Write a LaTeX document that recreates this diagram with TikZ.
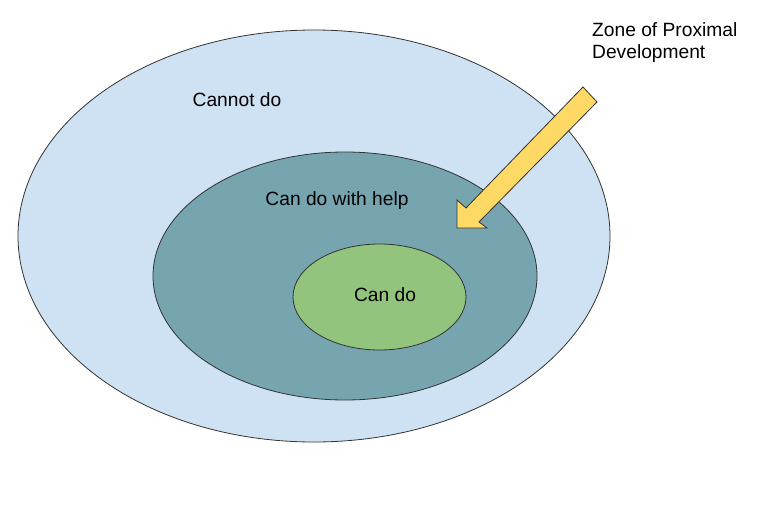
\documentclass[tikz,border=0pt]{standalone}
\usepackage{fontspec}
\setmainfont{Liberation Sans}
\definecolor{outerc}{HTML}{CFE2F3}
\definecolor{midc}{HTML}{76A5AF}
\definecolor{innc}{HTML}{93C47D}
\definecolor{arrc}{HTML}{FFD966}
\begin{document}
\begin{tikzpicture}[x=1pt,y=-1pt,
  zone/.style={draw=black!80,line width=0.8pt},
  lbl/.style={font=\fontsize{19.2}{22}\selectfont,inner sep=0pt}]
\useasboundingbox (0,0) rectangle (764,506);
\fill[white] (0,0) rectangle (764,506);
\draw[zone,fill=outerc] (314,236) ellipse [x radius=296,y radius=206];
\draw[zone,fill=midc] (345,276) ellipse [x radius=192,y radius=124];
\draw[zone,fill=innc] (379.5,297) ellipse [x radius=86.5,y radius=53];
\draw[zone,fill=arrc,line join=miter] (457,228) -- (457,200) -- (466,208) -- (583,87) -- (597,102) -- (479,222) -- (487,228) -- cycle;
\node[lbl] (cannot) at (237,100) {Cannot do};
\node[lbl] (help) at (337,201) {Can do with help};
\node[lbl] (cando) at (385,295) {Can do};
\node[lbl,anchor=north west,align=left] (zpd) at (592,22) {Zone of Proximal\\Development};
\end{tikzpicture}
\end{document}
